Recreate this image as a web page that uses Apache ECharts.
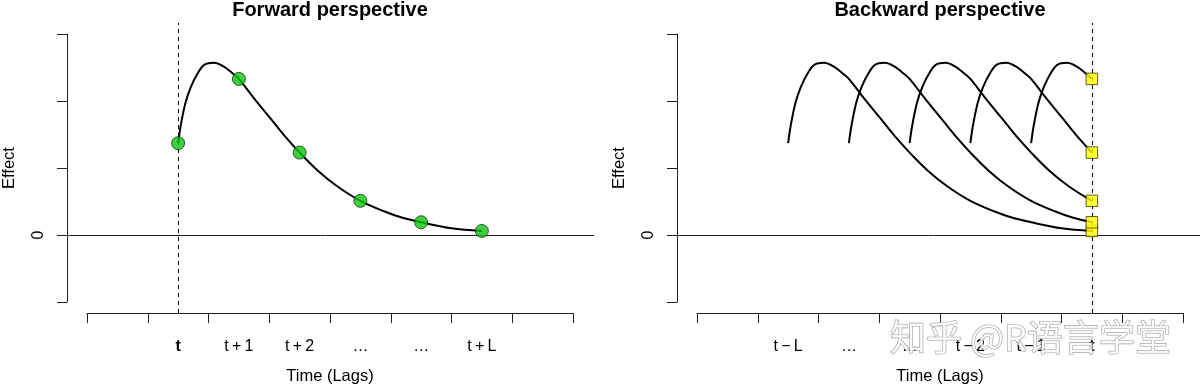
<!DOCTYPE html>
<html><head><meta charset="utf-8">
<script src="https://cdn.jsdelivr.net/npm/echarts@6/dist/echarts.min.js"></script>
<style>html,body{margin:0;padding:0;background:#fff}#c{width:1200px;height:385px}</style>
</head><body><div id="c"></div>
<script>
// ---- data ----
const forwardLabels = ['', 't', 't\u2009+\u20091', 't\u2009+\u20092', '\u2026', '\u2026', 't\u2009+\u2009L', ''];
const backwardLabels = ['', 't\u2009\u2212\u2009L', '\u2026', '\u2026', 't\u2009\u2212\u20092', 't\u2009\u2212\u20091', 't', ''];
const curveLag    = [0, 0.04, 0.12, 0.21, 0.32, 0.43, 0.59, 0.76, 0.9, 1, 1.25, 1.53, 1.8, 2, 2.3, 2.63, 3, 3.4, 3.68, 4, 4.5, 5];
const curveEffect = [1.37, 1.62, 1.97, 2.21, 2.41, 2.54, 2.57, 2.51, 2.41, 2.33, 2.04, 1.73, 1.43, 1.23, 0.96, 0.72, 0.51, 0.35, 0.26, 0.19, 0.10, 0.06];
const pointLag    = [0, 1, 2, 3, 4, 5];
const pointEffect = [1.37, 2.33, 1.23, 0.51, 0.19, 0.06];
const backwardStarts = [5, 4, 3, 2, 1];          // exposures at t-5 ... t-1
const refLag = 0;                                // the dashed line marks time t
const spanEnds = [0, 1];                         // reference lines run across their whole panel
const yLabelShown = 0;

// ---- build ----
const FONT = "'Liberation Sans', Arial, Helvetica, sans-serif";
const AX = '#222';
const curveData = curveLag.map((l, i) => [l, curveEffect[i]]);

function catAxis(grid, labels) {
  return {
    type: 'category', gridIndex: grid, data: labels, position: 'bottom', offset: 11,
    axisLine: { show: true, onZero: false, lineStyle: { color: AX, width: 1 } },
    axisTick: { show: true, length: 10, interval: 0, lineStyle: { color: AX, width: 1 } },
    axisLabel: {
      interval: 0, margin: 26, fontSize: 16, color: '#000', fontFamily: FONT,
      formatter: v => v === 't' ? '{b|t}' : v,
      rich: { b: { fontWeight: 'bold', fontSize: 16, color: '#000', fontFamily: FONT } }
    },
    splitLine: { show: false },
    name: 'Time (Lags)', nameLocation: 'middle', nameGap: 55,
    nameTextStyle: { fontSize: 16.5, color: '#000', fontFamily: FONT }
  };
}
function hidden(grid, min, max) {
  return { type: 'value', gridIndex: grid, min: min, max: max, show: false,
    axisLine: { onZero: false }, splitLine: { show: false } };
}
function yAx(grid) {
  return {
    type: 'value', gridIndex: grid, min: -1, max: 3, interval: 1, offset: 20,
    axisLine: { show: true, onZero: false, lineStyle: { color: AX, width: 1 } },
    axisTick: { show: true, length: 10, lineStyle: { color: AX, width: 1 } },
    axisLabel: { rotate: 90, margin: 20, fontSize: 16, color: '#000', fontFamily: FONT,
      formatter: v => v === yLabelShown ? String(v) : '' },
    splitLine: { show: false },
    name: 'Effect', nameLocation: 'middle', nameRotate: 90, nameGap: 49,
    nameTextStyle: { fontSize: 16.5, color: '#000', fontFamily: FONT }
  };
}
function curve(xi, yi, data) {
  return { type: 'line', xAxisIndex: xi, yAxisIndex: yi, clip: false, silent: true, symbol: 'none', smooth: 0.35, z: 2,
    data: data, lineStyle: { color: '#000', width: 2 } };
}
function zeroLine(xi, yi) {
  return { type: 'line', xAxisIndex: xi, yAxisIndex: yi, silent: true, symbol: 'none', z: 1,
    data: [[spanEnds[0], 0], [spanEnds[1], 0]], lineStyle: { color: AX, width: 1 } };
}
function dashLine(xi, yi) {
  return { type: 'line', xAxisIndex: xi, yAxisIndex: yi, silent: true, symbol: 'none', z: 1,
    data: [[refLag, spanEnds[0]], [refLag, spanEnds[1]]], lineStyle: { color: '#000', width: 1, type: [4, 4] } };
}

const series = [
  zeroLine(4, 2),
  dashLine(6, 4),
  curve(1, 0, curveData),
  { type: 'scatter', xAxisIndex: 1, yAxisIndex: 0, symbol: 'circle', symbolSize: 13, z: 4, clip: false,
    data: pointLag.map((l, i) => [l, pointEffect[i]]),
    itemStyle: { color: '#0fc40f', borderColor: '#0a3a0a', borderWidth: 1 } },
  zeroLine(5, 3),
  dashLine(7, 5)
];
backwardStarts.forEach(k => {
  series.push(curve(3, 1, curveData.filter(d => d[0] <= k).map(d => [d[0] - k, d[1]])));
});
series.push({ type: 'scatter', xAxisIndex: 3, yAxisIndex: 1, symbol: 'rect', symbolSize: 11.5, z: 4, clip: false,
  data: backwardStarts.map(k => [refLag, pointEffect[k]]),
  itemStyle: { color: '#ffff00', borderColor: '#3a3a00', borderWidth: 1 } });

const G = { outerBoundsMode: 'none', containLabel: false };
const chart = echarts.init(document.getElementById('c'), null, { renderer: 'canvas' });
chart.setOption({
  animation: false,
  backgroundColor: '#fff',
  title: [
    { text: 'Forward perspective', left: 330, top: 0, padding: 0, textAlign: 'center',
      textStyle: { fontSize: 20, fontWeight: 'bold', color: '#000', fontFamily: FONT } },
    { text: 'Backward perspective', left: 940, top: 0, padding: 0, textAlign: 'center',
      textStyle: { fontSize: 20, fontWeight: 'bold', color: '#000', fontFamily: FONT } },
    { text: '知乎 @R语言学堂', left: 890, top: 319, padding: 0,
      textStyle: { fontSize: 36, fontWeight: 'normal', fontFamily: "'Noto Sans CJK SC', sans-serif",
        color: 'rgba(255,255,255,0.8)', textBorderColor: 'rgba(100,100,100,0.6)', textBorderWidth: 1.2 } }
  ],
  grid: [
    Object.assign({ left: 87, top: 34, width: 486, height: 268 }, G),        // 0 forward data
    Object.assign({ left: 697, top: 34, width: 486, height: 268 }, G),       // 1 backward data
    Object.assign({ left: 57, top: 34.5, width: 537, height: 268 }, G),      // 2 forward zero line
    Object.assign({ left: 667, top: 34.5, width: 533, height: 268 }, G),     // 3 backward zero line
    Object.assign({ left: 87.375, top: 23, width: 486, height: 290 }, G),    // 4 forward dashed line
    Object.assign({ left: 697.625, top: 23, width: 486, height: 290 }, G)    // 5 backward dashed line
  ],
  xAxis: [
    catAxis(0, forwardLabels), hidden(0, -1.5, 6.5),
    catAxis(1, backwardLabels), hidden(1, -6.5, 1.5),
    hidden(2, spanEnds[0], spanEnds[1]), hidden(3, spanEnds[0], spanEnds[1]),
    hidden(4, -1.5, 6.5), hidden(5, -6.5, 1.5)
  ],
  yAxis: [
    yAx(0), yAx(1),
    hidden(2, -1, 3), hidden(3, -1, 3),
    hidden(4, spanEnds[0], spanEnds[1]), hidden(5, spanEnds[0], spanEnds[1])
  ],
  series: series
});
</script></body></html>
